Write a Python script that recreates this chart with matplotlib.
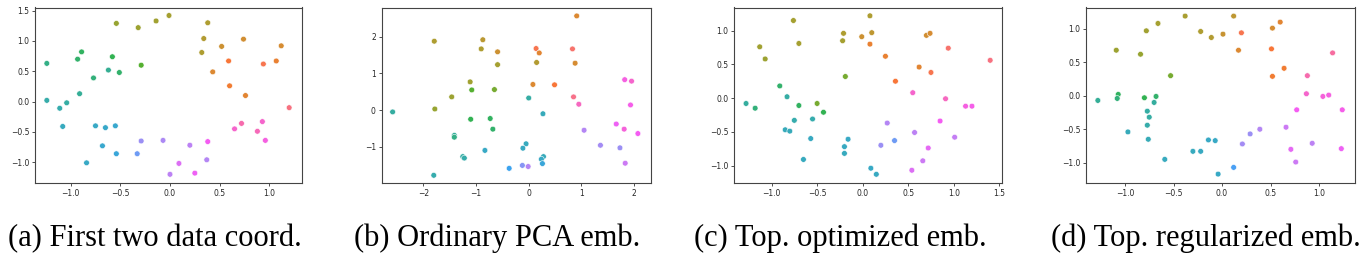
import matplotlib
matplotlib.use("Agg")
import matplotlib.pyplot as plt
from seaborn.external import husl

# ---------------- data ----------------
# Panel (a): first two data coordinates
a_x = [-0.01, -0.14, -0.32, -0.54, 0.38, 0.34, 0.32, 0.52, 0.74, 1.12,
       1.07, 0.94, 0.59, 0.43, 0.60, 0.76, 1.20, 0.93, 0.72, 0.65,
       0.88, 0.96, 0.38, 0.20, 0.37, 0.25, 0.09, 0.00, -0.07, -0.29,
       -0.33, -0.54, -0.55, -0.65, -0.75, -0.68, -0.84, -1.08, -1.11, -1.04,
       -1.24, -0.91, -0.77, -0.62, -0.51, -0.58, -0.29, -0.93, -0.89, -1.24]
a_y = [1.42, 1.33, 1.22, 1.29, 1.30, 1.04, 0.81, 0.91, 1.03, 0.92,
       0.67, 0.62, 0.67, 0.49, 0.26, 0.10, -0.10, -0.33, -0.36, -0.45,
       -0.49, -0.64, -0.66, -0.72, -0.96, -1.18, -1.02, -1.20, -0.64, -0.65,
       -0.86, -0.86, -0.40, -0.43, -0.40, -0.73, -1.01, -0.41, -0.11, -0.02,
       0.02, 0.13, 0.39, 0.52, 0.48, 0.74, 0.60, 0.70, 0.82, 0.63]
a_hue = [0.22, 0.23, 0.24, 0.25, 0.20, 0.19, 0.20, 0.13, 0.12, 0.11,
         0.08, 0.05, 0.06, 0.10, 0.07, 0.09, 0.01, 0.90, 0.95, 0.90,
         0.93, 0.87, 0.85, 0.78, 0.77, 0.84, 0.82, 0.78, 0.76, 0.74,
         0.70, 0.64, 0.62, 0.61, 0.60, 0.62, 0.60, 0.58, 0.53, 0.50,
         0.52, 0.46, 0.40, 0.45, 0.38, 0.36, 0.33, 0.38, 0.37, 0.42]

# Panel (b): ordinary PCA embedding
b_x = [0.91, -1.79, -0.87, -0.90, -0.59, -0.59, 0.14, 0.20, 0.15, 0.83,
       0.88, 0.08, 0.49, -1.11, -1.08, -0.65, -1.46, -1.78, 0.00, -2.58,
       -1.10, -0.73, -0.68, -1.41, -1.41, -0.83, -1.25, -1.22, -1.80, -0.05,
       -0.11, 0.27, 0.28, 0.24, 0.26, -0.37, -0.12, -0.01, 0.85, 0.95,
       1.05, 1.36, 1.73, 1.83, 1.66, 1.81, 2.07, 1.93, 1.82, 1.95]
b_y = [2.57, 1.88, 1.92, 1.67, 1.59, 1.24, 1.68, 1.56, 1.30, 1.67,
       1.28, 0.70, 0.69, 0.77, 0.55, 0.56, 0.36, 0.03, 0.33, -0.05,
       -0.25, -0.23, -0.52, -0.69, -0.74, -1.10, -1.27, -1.31, -1.78, -0.92,
       -1.04, -0.10, -1.27, -1.34, -1.46, -1.59, -1.51, -1.54, 0.36, 0.16,
       -0.55, -0.96, -1.03, -1.45, -0.38, -0.52, -0.64, 0.14, 0.83, 0.79]
b_hue = [0.10, 0.20, 0.17, 0.20, 0.13, 0.22, 0.05, 0.09, 0.19, 0.03,
         0.11, 0.10, 0.06, 0.23, 0.33, 0.30, 0.24, 0.25, 0.50, 0.49,
         0.36, 0.37, 0.38, 0.47, 0.42, 0.60, 0.50, 0.52, 0.53, 0.58,
         0.59, 0.57, 0.57, 0.60, 0.64, 0.67, 0.72, 0.77, 0.00, 0.92,
         0.77, 0.75, 0.74, 0.80, 0.84, 0.88, 0.85, 0.86, 0.87, 0.90]

# Panel (c): topologically optimized embedding
c_x = [0.08, -0.76, -0.21, -0.22, 0.10, -0.01, 0.08, -0.70, -1.13, -1.07,
       0.70, 0.74, 0.94, 1.40, 0.25, 0.62, 0.75, 0.36, -0.19, 0.55,
       0.91, 1.13, 1.20, 0.85, 1.01, 0.57, 0.27, 0.35, 0.20, 0.72,
       0.66, 0.54, 0.09, 0.15, -0.16, -0.20, -0.20, -0.57, -0.65, -0.85,
       -0.80, -0.75, -0.55, -0.83, -0.91, -0.70, -0.50, -0.43, -1.28, -1.18]
c_y = [1.22, 1.15, 0.96, 0.85, 0.97, 0.91, 0.80, 0.81, 0.76, 0.58,
       0.93, 0.96, 0.74, 0.56, 0.62, 0.46, 0.38, 0.25, 0.32, 0.08,
       -0.01, -0.12, -0.12, -0.34, -0.58, -0.51, -0.37, -0.63, -0.70, -0.74,
       -0.93, -1.07, -1.04, -1.13, -0.61, -0.72, -0.82, -0.60, -0.91, -0.47,
       -0.49, -0.33, -0.31, 0.02, 0.18, -0.11, -0.08, -0.21, -0.08, -0.15]
c_hue = [0.20, 0.22, 0.20, 0.22, 0.16, 0.13, 0.08, 0.22, 0.23, 0.24,
         0.12, 0.11, 0.03, 0.01, 0.08, 0.09, 0.05, 0.06, 0.30, 0.90,
         0.92, 0.87, 0.86, 0.85, 0.79, 0.78, 0.77, 0.70, 0.74, 0.83,
         0.80, 0.82, 0.60, 0.59, 0.60, 0.59, 0.58, 0.59, 0.58, 0.57,
         0.57, 0.53, 0.53, 0.50, 0.38, 0.37, 0.30, 0.36, 0.48, 0.40]

# Panel (d): topologically regularized embedding
d_x = [-0.38, 0.12, -0.66, -0.78, -0.22, -0.11, 0.01, 0.20, 0.52, 0.60,
       0.17, 0.51, -1.09, -0.84, -0.53, 0.64, 0.52, 1.14, 0.88, 0.87,
       1.04, 1.10, 1.24, 0.77, 0.66, 0.39, 0.29, 0.21, 0.93, 0.71,
       0.76, 1.23, 0.12, -0.04, -0.07, -0.14, -0.22, -0.30, -0.59, -0.97,
       -0.76, -0.77, -0.75, -0.77, -0.70, -0.68, -0.80, -1.07, -1.08, -1.28]
d_y = [1.19, 1.19, 1.08, 0.97, 0.96, 0.87, 0.92, 0.94, 1.01, 1.10,
       0.68, 0.70, 0.68, 0.62, 0.30, 0.41, 0.29, 0.64, 0.30, 0.03,
       -0.01, 0.01, -0.21, -0.21, -0.47, -0.50, -0.57, -0.72, -0.71, -0.80,
       -0.99, -0.79, -1.07, -1.17, -0.67, -0.66, -0.83, -0.83, -0.95, -0.54,
       -0.65, -0.44, -0.32, -0.23, -0.10, -0.01, -0.03, 0.02, -0.04, -0.07]
d_hue = [0.21, 0.16, 0.22, 0.23, 0.20, 0.19, 0.14, 0.05, 0.11, 0.09,
         0.10, 0.06, 0.24, 0.25, 0.30, 0.07, 0.07, 0.97, 0.95, 0.90,
         0.88, 0.87, 0.86, 0.85, 0.80, 0.77, 0.74, 0.75, 0.78, 0.83,
         0.80, 0.84, 0.68, 0.60, 0.60, 0.60, 0.59, 0.58, 0.58, 0.57,
         0.56, 0.52, 0.50, 0.50, 0.48, 0.38, 0.36, 0.37, 0.40, 0.46]

captions = ["(a) First two data coord.", "(b) Ordinary PCA emb.",
            "(c) Top. optimized emb.", "(d) Top. regularized emb."]

a_xticks = [-1.0, -0.5, 0.0, 0.5, 1.0]
a_yticks = [-1.0, -0.5, 0.0, 0.5, 1.0, 1.5]
b_xticks = [-2, -1, 0, 1, 2]
b_yticks = [-1, 0, 1, 2]
c_xticks = [-1.0, -0.5, 0.0, 0.5, 1.0, 1.5]
c_yticks = [-1.0, -0.5, 0.0, 0.5, 1.0]
d_xticks = [-1.0, -0.5, 0.0, 0.5, 1.0]
d_yticks = [-1.0, -0.5, 0.0, 0.5, 1.0]


def husl_color(v):
    h = ((v + 0.01) % 1.0) * 359
    return husl.husl_to_rgb(h, 0.9 * 99, 0.65 * 99)


W, H = 1366, 254
fig = plt.figure(figsize=(W / 100, H / 100), dpi=100)

panels = [
    (a_x, a_y, a_hue, a_xticks, a_yticks, (-1.359, 1.332), (-1.343, 1.552), 35.0, 267.3, 154.5),
    (b_x, b_y, b_hue, b_xticks, b_yticks, (-2.787, 2.313), (-1.99, 2.80), 381.7, 269.0, 497.0),
    (c_x, c_y, c_hue, c_xticks, c_yticks, (-1.409, 1.533), (-1.259, 1.343), 734.3, 268.0, 840.0),
    (d_x, d_y, d_hue, d_xticks, d_yticks, (-1.399, 1.368), (-1.303, 1.318), 1086.3, 268.4, 1206.0),
]

top_px, bot_px = 7.5, 183.0
for (xs, ys, hs, xt, yt, xl, yl, left, width, capx), cap in zip(panels, captions):
    ax = fig.add_axes([left / W, (H - bot_px) / H, width / W, (bot_px - top_px) / H])
    cols = [husl_color(v) for v in hs]
    ax.scatter(xs, ys, c=cols, s=17, edgecolors="white", linewidths=0.4, zorder=3)
    ax.set_xlim(*xl)
    ax.set_ylim(*yl)
    ax.set_xticks(xt)
    ax.set_yticks(yt)
    if isinstance(xt[0], float):
        ax.set_xticklabels([f"{t:.1f}".replace("-", "\u2212") for t in xt])
    if isinstance(yt[0], float):
        ax.set_yticklabels([f"{t:.1f}".replace("-", "\u2212") for t in yt])
    ax.tick_params(labelsize=5.5, length=2.2, width=0.6, pad=2, colors="#333333",
                   labelcolor="#262626")
    for sp in ax.spines.values():
        sp.set_color("#444444")
        sp.set_linewidth(0.8)
    fig.text(capx / W, (H - 246) / H, cap, ha="center", va="baseline",
             fontsize=22, family="Liberation Serif", color="black")

fig.savefig("out.png", dpi=100)
